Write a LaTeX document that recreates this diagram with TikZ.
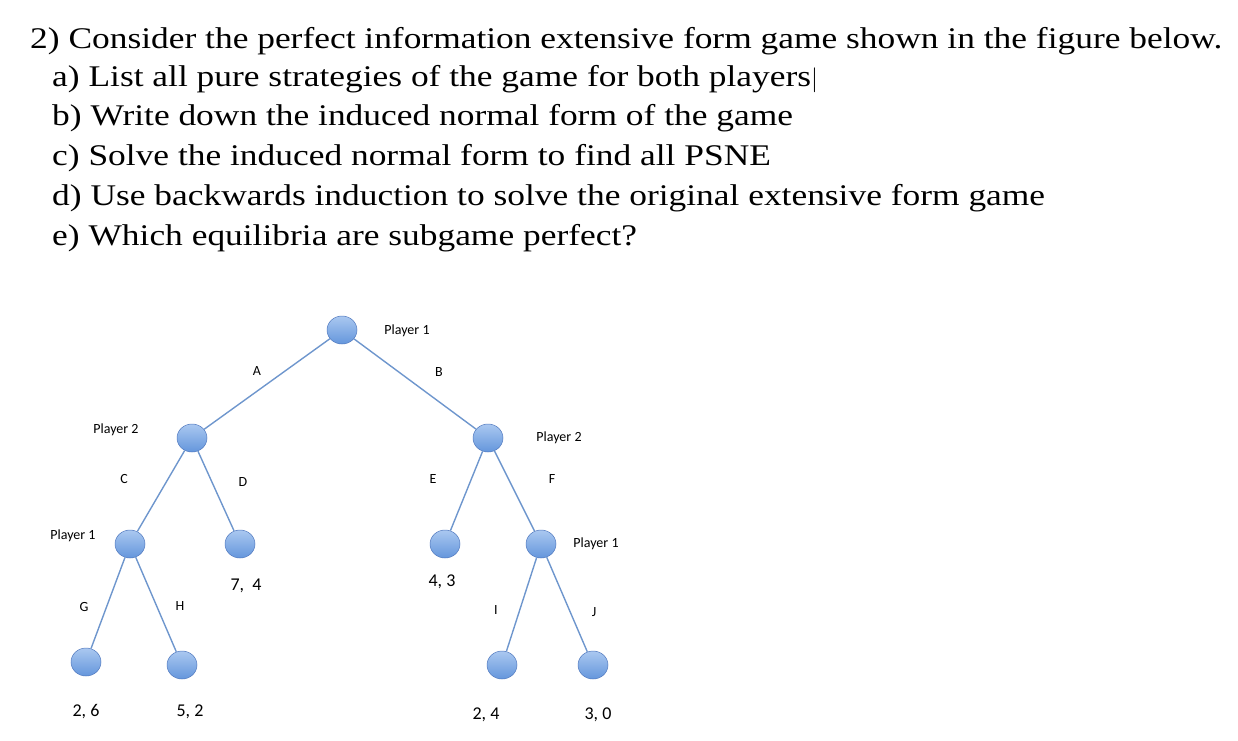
\documentclass[tikz,border=0pt]{standalone}
\usepackage{fontspec}
\usetikzlibrary{shapes.geometric}
\setmainfont{Liberation Serif}[FakeStretch=1.18]
\newfontfamily\lab{Carlito}
\definecolor{nodetop}{RGB}{170,200,240}
\definecolor{nodebot}{RGB}{100,150,220}
\definecolor{nodeline}{RGB}{80,120,190}
\definecolor{edgecol}{RGB}{110,150,205}
\begin{document}
\begin{tikzpicture}[x=1pt,y=-1pt,
  gnode/.style={ellipse,minimum width=30pt,minimum height=28pt,inner sep=0,draw=nodeline,line width=0.5pt,top color=nodetop,bottom color=nodebot},
  edge/.style={draw=edgecol,line width=1.4pt},
  small/.style={font=\lab\fontsize{14}{16}\selectfont},
  pay/.style={font=\lab\fontsize{18}{20}\selectfont},
  ttl/.style={anchor=base west,font=\fontsize{30}{32}\selectfont,inner sep=0}]
\useasboundingbox (0,0) rectangle (1238,740);
\node[ttl] (t0) at (30,48) {2) Consider the perfect information extensive form game shown in the figure below.};
\node[ttl] (t1) at (52,86) {a) List all pure strategies of the game for both players$|$};
\node[ttl] (t2) at (52,125) {b) Write down the induced normal form of the game};
\node[ttl] (t3) at (52,165) {c) Solve the induced normal form to find all PSNE};
\node[ttl] (t4) at (52,205) {d) Use backwards induction to solve the original extensive form game};
\node[ttl] (t5) at (52,245) {e) Which equilibria are subgame perfect?};
\node[gnode] (r) at (342,330) {};
\node[gnode] (l) at (192,438) {};
\node[gnode] (rr) at (488,438) {};
\node[gnode] (ll) at (130,544) {};
\node[gnode] (d) at (240,544) {};
\node[gnode] (e) at (445,544) {};
\node[gnode] (rrr) at (541,544) {};
\node[gnode] (g) at (86,662) {};
\node[gnode] (h) at (182,665) {};
\node[gnode] (i) at (502,665) {};
\node[gnode] (j) at (593,665) {};
\draw[edge] (r) -- (l); \draw[edge] (r) -- (rr);
\draw[edge] (l) -- (ll); \draw[edge] (l) -- (d);
\draw[edge] (rr) -- (e); \draw[edge] (rr) -- (rrr);
\draw[edge] (ll) -- (g); \draw[edge] (ll) -- (h);
\draw[edge] (rrr) -- (i); \draw[edge] (rrr) -- (j);
\node[small] (p1) at (407,331) {Player 1};
\node[small] (p2l) at (116,430) {Player 2};
\node[small] (p2r) at (559,438) {Player 2};
\node[small] (p1l) at (73,536) {Player 1};
\node[small] (p1r) at (596,544) {Player 1};
\node[small] (la) at (257,371) {A};
\node[small] (lb) at (439,372) {B};
\node[small] (lc) at (124,479) {C};
\node[small] (ld) at (243,482) {D};
\node[small] (le) at (433,479) {E};
\node[small] (lf) at (552,479) {F};
\node[small] (lg) at (84,607) {G};
\node[small] (lh) at (180,606) {H};
\node[small] (li) at (496,610) {I};
\node[small] (lj) at (594,612) {J};
\node[pay] (v1) at (246,586) {7,\ \ 4};
\node[pay] (v2) at (442,582) {4, 3};
\node[pay] (v3) at (86,712) {2, 6};
\node[pay] (v4) at (190,712) {5, 2};
\node[pay] (v5) at (486,715) {2, 4};
\node[pay] (v6) at (598,715) {3, 0};
\end{tikzpicture}
\end{document}
